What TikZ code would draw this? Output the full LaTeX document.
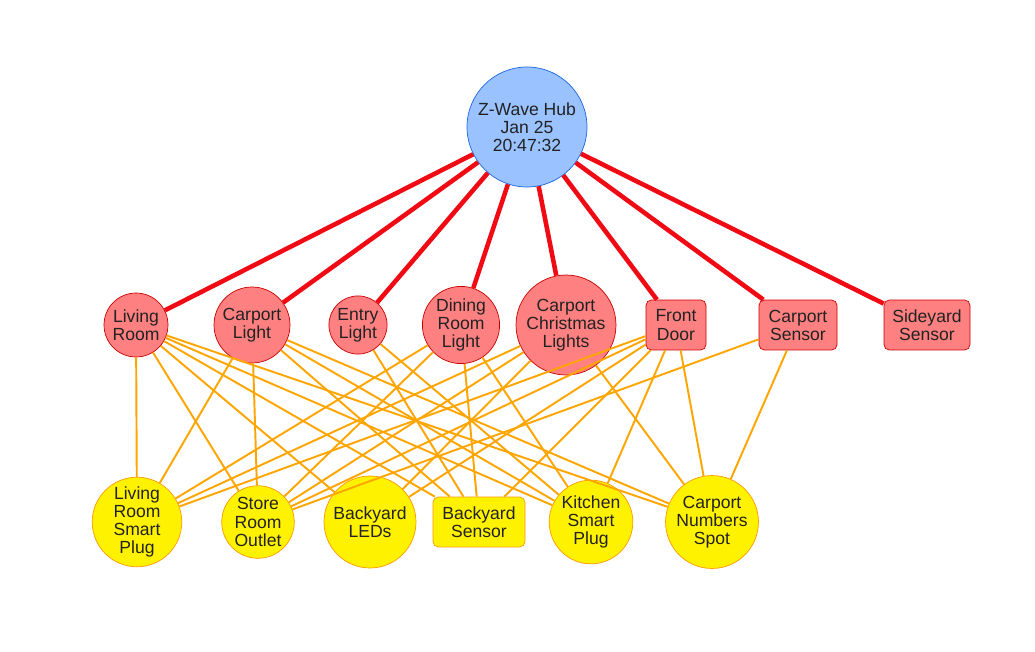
\documentclass[tikz,border=0pt]{standalone}
\usepackage{fontspec}
\setmainfont{Liberation Sans}
\usetikzlibrary{positioning}
\definecolor{hubblue}{HTML}{99C2FF}
\definecolor{hubedge}{HTML}{1A66E0}
\definecolor{devred}{HTML}{FF8080}
\definecolor{linkred}{HTML}{F00A14}
\definecolor{linkorange}{HTML}{FFA500}
\definecolor{txt}{HTML}{222222}
\tikzset{
  base/.style={inner sep=1pt, align=center, text=txt, font=\fontsize{10}{10.3}\selectfont},
  hub/.style={base, circle, fill=hubblue, draw=hubedge, minimum size=2.4cm},
  dev/.style={base, circle, fill=devred, draw=red!80!black},
  devbox/.style={base, rectangle, rounded corners=3pt, fill=devred, draw=red!80!black, minimum height=1cm},
  leaf/.style={base, circle, fill=yellow, draw=orange!80!yellow},
  leafbox/.style={base, rectangle, rounded corners=3pt, fill=yellow, draw=orange!80!yellow, minimum height=1cm},
  strong/.style={linkred, line width=2.6pt},
  weak/.style={linkorange, line width=1.1pt}
}
\begin{document}
\begin{tikzpicture}[x=0.02cm, y=-0.02cm]
        \useasboundingbox (0,0) rectangle (1035,652);
        % hub
        \node[hub] (hub) at (527,127) {Z-Wave Hub\\Jan 25\\20:47:32};
        % first row
        \node[dev, minimum size=1.28cm] (lr) at (136,325) {Living\\Room};
        \node[dev, minimum size=1.52cm] (cl) at (252,325) {Carport\\Light};
        \node[dev, minimum size=1.16cm] (el) at (358,325) {Entry\\Light};
        \node[dev, minimum size=1.36cm] (dr) at (461,325) {Dining\\Room\\Light};
        \node[dev, minimum size=2cm] (cx) at (566,325) {Carport\\Christmas\\Lights};
        \node[devbox, minimum width=1.2cm] (fd) at (676,325) {Front\\Door};
        \node[devbox, minimum width=1.56cm] (cs) at (798,325) {Carport\\Sensor};
        \node[devbox, minimum width=1.72cm] (ss) at (927,325) {Sideyard\\Sensor};
        % second row
        \node[leaf, minimum size=1.76cm] (sp) at (137,522) {Living\\Room\\Smart\\Plug};
        \node[leaf, minimum size=1.4cm] (so) at (258,522) {Store\\Room\\Outlet};
        \node[leaf, minimum size=1.84cm] (bl) at (370,522) {Backyard\\LEDs};
        \node[leafbox, minimum width=1.84cm] (bs) at (479,522) {Backyard\\Sensor};
        \node[leaf, minimum size=1.56cm] (ks) at (591,522) {Kitchen\\Smart\\Plug};
        \node[leaf, minimum size=1.8cm] (cn) at (712,522) {Carport\\Numbers\\Spot};
        % links
        \begin{scope}[on background layer/.style={}]
        \foreach \d in {lr,cl,el,dr,cx,fd,cs,ss}
          \draw[strong] (hub) -- (\d);
        \foreach \a/\b in {lr/sp,lr/so,lr/bl,lr/bs,lr/ks,lr/cn,
                           cl/sp,cl/so,cl/bs,cl/ks,cl/cn,
                           el/bs,el/ks,
                           dr/sp,dr/so,dr/bs,dr/ks,
                           cx/sp,cx/so,cx/bl,cx/cn,
                           fd/sp,fd/so,fd/bl,fd/bs,fd/ks,fd/cn,
                           cs/so,cs/cn}
          \draw[weak] (\a) -- (\b);
        \end{scope}
\end{tikzpicture}
\end{document}
